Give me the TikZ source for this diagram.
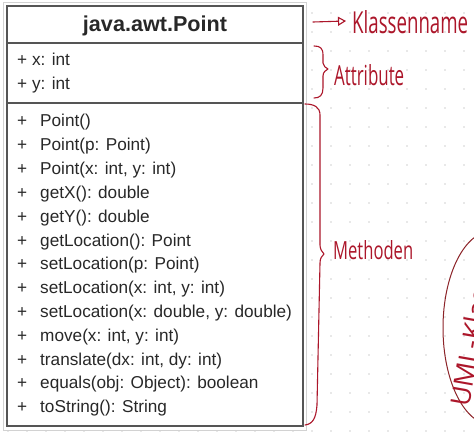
\documentclass[tikz,border=0pt]{standalone}
\usepackage{fontspec}
\setmainfont{Liberation Sans}
\newfontfamily\handfont{Open Sans}
\usetikzlibrary{arrows.meta}
\definecolor{ink}{RGB}{172,22,42}
\definecolor{inkdark}{RGB}{140,35,40}
\definecolor{txt}{RGB}{40,40,40}
\definecolor{frame}{RGB}{85,85,85}
\begin{document}
\begin{tikzpicture}[x=1pt,y=-1pt,
  meth/.style={inner sep=0pt, anchor=base west, text=txt, font=\fontsize{17.2}{20}\selectfont},
  hand/.style={inner sep=0pt, anchor=base west, text=ink, font=\handfont},
  brace/.style={draw=ink, line width=1.1pt, line cap=round, line join=round},
  boxline/.style={draw=frame, line width=1.3pt},
]
\useasboundingbox (0,0) rectangle (474,433);
\fill[white] (0,0) rectangle (474,433);
% dot grid
\foreach \i in {0,...,24}
  \foreach \j in {0,...,22}
    \fill[gray!35] (8+19*\i, 13+19*\j) circle (0.9pt);
% UML class box
\draw[gray!35, line width=0.8pt] (3,2) rectangle (306,430);
\fill[white] (7,6) rectangle (303,426);
\draw[frame, line width=2.6pt] (303,6) -- (303,426) -- (7,426);
\draw[boxline] (7,6) rectangle (303,426);
\draw[boxline] (7,43) -- (303,43);
\draw[boxline] (7,103) -- (303,103);
\node[inner sep=0pt, anchor=base, text=txt, font=\bfseries\fontsize{21.6}{24}\selectfont] (title) at (155,32) {java.awt.Point};
\node[meth] (ax) at (17,66) {+ x: int};
\node[meth] (ay) at (17,90) {+ y: int};
\foreach \t [count=\i] in {Point(), Point(p: Point), {Point(x: int, y: int)}, getX(): double, getY(): double,
  getLocation(): Point, setLocation(p: Point), {setLocation(x: int, y: int)}, {setLocation(x: double, y: double)},
  {move(x: int, y: int)}, {translate(dx: int, dy: int)}, equals(obj: Object): boolean, toString(): String}
  \node[meth] (m\i) at (17,{127+23.8*(\i-1)}) {\makebox[23pt][l]{+}\t};
% annotations
\coordinate (a0) at (313,22);
\coordinate (a1) at (346,21);
\draw[ink, line width=1.1pt, line cap=round, -{Triangle[open, length=8pt, width=9pt]}] (a0) -- (a1);
\node[hand] (kn) at (352,34) {\resizebox{116pt}{23pt}{Klassenname}};
\draw[brace] (314,46) .. controls (320,46) and (323,48) .. (323,55) -- (323,63)
  .. controls (323,66) and (326,68) .. (328,69) .. controls (326,70) and (323,72) .. (323,76)
  -- (323,88) .. controls (323,95) and (320,98) .. (314,98);
\node[hand] (attr) at (334,86) {\resizebox{70pt}{21pt}{Attribute}};
\draw[brace] (305,104) .. controls (314,104) and (320,107) .. (320,115) -- (320,245)
  .. controls (320,249) and (322,252) .. (324,254) .. controls (322,256) and (320,258) .. (320,263)
  -- (317,405) .. controls (316,418) and (313,424) .. (305,425);
\node[hand] (meth) at (333,259) {\resizebox{80pt}{19pt}{Methoden}};
\begin{scope}
  \clip (0,0) rectangle (474,433);
  \draw[inkdark, line width=1pt] (492,328) ellipse [x radius=49, y radius=97];
  \node[hand, rotate=80, anchor=north west, font=\handfont\fontsize{27}{30}\selectfont] (uml) at (449,404) {UML-Klasse};
\end{scope}
\end{tikzpicture}
\end{document}
